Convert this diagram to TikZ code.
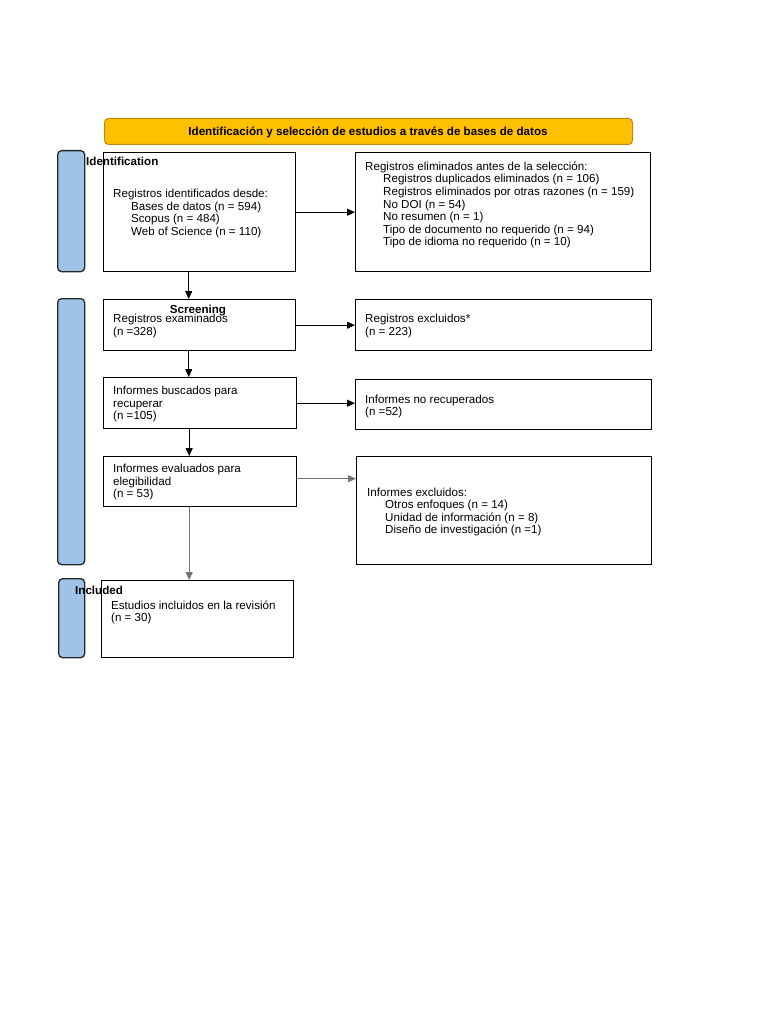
\documentclass[tikz,border=0pt]{standalone}
\usepackage{fontspec}
\setmainfont{Liberation Sans}
\usetikzlibrary{arrows.meta,positioning,calc}
\definecolor{titleyellow}{RGB}{255,192,0}
\definecolor{titleedge}{RGB}{190,140,20}
\definecolor{barblue}{RGB}{157,195,230}
\tikzset{
  box/.style={draw=black, line width=1.4pt, anchor=north west, inner sep=0pt},
  bar/.style={draw=black!85, fill=barblue, rounded corners=4pt, line width=1.3pt, anchor=north west, inner sep=0pt},
  txt/.style={anchor=north west, align=left, inner sep=0pt, font=\fontsize{11.6}{12.6}\selectfont,
    execute at begin node=\rule{0pt}{9pt}},
  lbl/.style={inner sep=0pt, font=\fontsize{11.6}{12.6}\selectfont\bfseries},
  arrow/.style={-{Triangle[length=8pt,width=7pt]}, line width=0.9pt},
}
\newcommand{\ind}{\hspace*{18pt}}

\begin{document}
\begin{tikzpicture}[x=1pt,y=-1pt]
  \fill[white] (0,0) rectangle (768,1024);

  % title bar
  \node[box, draw=titleedge, fill=titleyellow, rounded corners=4pt, line width=1pt,
        minimum width=528pt, minimum height=26pt] (title) at (104,118) {};
  \node[lbl, anchor=base] (titletxt) at (368,135.5) {Identificación y selección de estudios a través de bases de datos};

  % phase bars
  \node[bar, minimum width=27pt, minimum height=121pt] (idbar) at (57,150) {};
  \node[bar, minimum width=27pt, minimum height=266pt] (scbar) at (57,298) {};
  \node[bar, minimum width=26pt, minimum height=79pt] (inbar) at (58,578) {};

  % boxes
  \node[box, minimum width=192pt, minimum height=119pt] (ident) at (103,152) {};
  \node[box, minimum width=295pt, minimum height=119pt] (elim) at (355,152) {};
  \node[box, minimum width=192pt, minimum height=51pt] (exam) at (103,299) {};
  \node[box, minimum width=296pt, minimum height=51pt] (excl) at (355,299) {};
  \node[box, minimum width=193pt, minimum height=51pt] (sought) at (103,377) {};
  \node[box, minimum width=296pt, minimum height=50pt] (notret) at (355,379) {};
  \node[box, minimum width=193pt, minimum height=50pt] (assess) at (103,456) {};
  \node[box, minimum width=295pt, minimum height=108pt] (repexcl) at (356,456) {};
  \node[box, minimum width=192pt, minimum height=77pt] (incl) at (101,580) {};

  % texts
  \node[txt] (identtxt) at (113,189) {Registros identificados desde:\\
    \ind Bases de datos (n = 594)\\ \ind Scopus (n = 484)\\ \ind Web of Science (n = 110)};
  \node[txt] (elimtxt) at (365,161.5) {Registros eliminados antes de la selección:\\
    \ind Registros duplicados eliminados (n = 106)\\
    \ind Registros eliminados por otras razones (n = 159)\\
    \ind No DOI (n = 54)\\ \ind No resumen (n = 1)\\
    \ind Tipo de documento no requerido (n = 94)\\
    \ind Tipo de idioma no requerido (n = 10)};
  \node[txt] (examtxt) at (113,314) {Registros examinados\\(n =328)};
  \node[txt] (excltxt) at (365,314) {Registros excluidos*\\(n = 223)};
  \node[txt] (soughttxt) at (113,386) {Informes buscados para\\recuperar\\(n =105)};
  \node[txt] (notrettxt) at (365,394.5) {Informes no recuperados\\(n =52)};
  \node[txt] (assesstxt) at (113,464) {Informes evaluados para\\elegibilidad\\(n = 53)};
  \node[txt] (repexcltxt) at (367,487.5) {Informes excluidos:\\
    \ind Otros enfoques (n = 14)\\ \ind Unidad de información (n = 8)\\
    \ind Diseño de investigación (n =1)};
  \node[txt] (incltxt) at (111,600.5) {Estudios incluidos en la revisión\\(n = 30)};

  % phase labels
  \node[lbl, anchor=base west] (idlbl) at (86,166) {Identification};
  \node[lbl, anchor=base] (sclbl) at (198,313) {Screening};
  \node[lbl, anchor=base west] (inlbl) at (75,594) {Included};

  % arrows
  \draw[arrow] (ident.east) -- (elim.west);
  \draw[arrow] (exam.east) -- (exam.east -| excl.west);
  \draw[arrow] (sought.east) -- (sought.east -| notret.west);
  \draw[arrow, draw=black!55, fill=black] ([yshift=3pt]assess.east) -- ([yshift=3pt]assess.east -| repexcl.west);
  \draw[arrow] ([xshift=-11pt]ident.south) -- ([xshift=-11pt]ident.south |- exam.north);
  \draw[arrow] ([xshift=-11pt]exam.south) -- ([xshift=-11pt]exam.south |- sought.north);
  \draw[arrow] ([xshift=-11pt]sought.south) -- ([xshift=-11pt]sought.south |- assess.north);
  \draw[arrow, draw=black!55, fill=black] ([xshift=-11pt]assess.south) -- ([xshift=-11pt]assess.south |- incl.north);
\end{tikzpicture}
\end{document}
